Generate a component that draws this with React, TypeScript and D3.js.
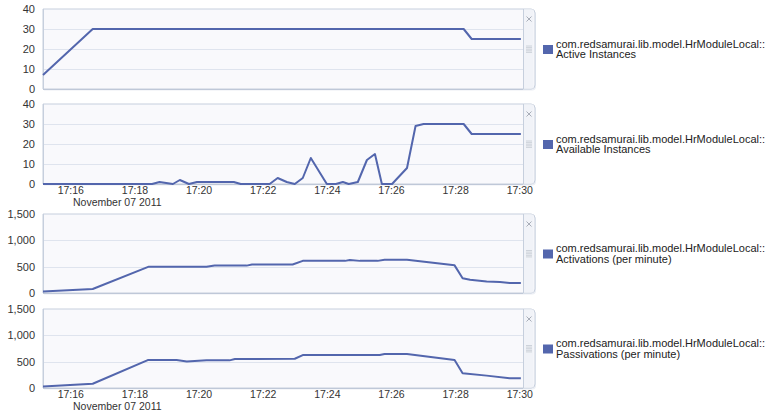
import React from "react";
import * as d3 from "d3";

const xDomainTimes = ["17:15:08", "17:30:06"];
const xTickLabels = ["17:16", "17:18", "17:20", "17:22", "17:24", "17:26", "17:28", "17:30"];
const dateLabel = "November 07 2011";

const smallTicks = [0, 10, 20, 30, 40];
const bigTicks = [0, 500, 1000, 1500];

const activeTimes = ["17:15:08", "17:16:41", "17:28:15", "17:28:30", "17:30:02"];
const activeValues = [7, 30, 30, 25, 25];

const availableTimes = [
  "17:15:08", "17:18:32", "17:18:46", "17:19:11", "17:19:24", "17:19:41", "17:19:56",
  "17:21:05", "17:21:18", "17:22:12", "17:22:27", "17:22:44", "17:22:59", "17:23:14",
  "17:23:29", "17:23:59", "17:24:16", "17:24:29", "17:24:40", "17:24:57", "17:25:14",
  "17:25:29", "17:25:42", "17:26:01", "17:26:29", "17:26:45", "17:27:00", "17:28:15",
  "17:28:30", "17:30:02",
];
const availableValues = [
  0, 0, 1, 0, 2, 0, 1,
  1, 0, 0, 3, 1, 0, 3,
  13, 0, 0, 1, 0, 1, 12,
  15, 0, 0, 8, 29, 30, 30,
  25, 25,
];

const activationTimes = [
  "17:15:08", "17:16:41", "17:18:26", "17:20:14", "17:20:29", "17:21:29", "17:21:39",
  "17:22:55", "17:23:14", "17:24:33", "17:24:42", "17:25:01", "17:25:34", "17:25:47",
  "17:26:29", "17:27:58", "17:28:13", "17:28:27", "17:28:58", "17:29:23", "17:29:41",
  "17:30:02",
];
const activationValues = [
  30, 75, 500, 500, 520, 520, 540,
  540, 610, 610, 625, 610, 610, 630,
  630, 525, 280, 250, 220, 210, 190,
  190,
];

const passivationTimes = [
  "17:15:08", "17:16:41", "17:18:24", "17:19:18", "17:19:37", "17:20:14", "17:20:57",
  "17:21:07", "17:22:59", "17:23:14", "17:25:38", "17:25:47", "17:26:29", "17:27:58",
  "17:28:13", "17:28:58", "17:29:41", "17:30:02",
];
const passivationValues = [
  30, 80, 530, 530, 505, 525, 525,
  550, 555, 625, 625, 645, 645, 530,
  280, 235, 185, 185,
];

const legendPrefix = "com.redsamurai.lib.model.HrModuleLocal::";
const seriesNames = ["Active Instances", "Available Instances", "Activations (per minute)", "Passivations (per minute)"];

const parse = d3.timeParse("%H:%M:%S");
const parseHM = d3.timeParse("%H:%M");

const LINE = "#5366ad";
const FONT = "'Liberation Sans', Arial, Helvetica, sans-serif";

const X0 = 43;
const X1 = 523;
const X2 = 535;

const x = d3
  .scaleTime()
  .domain(xDomainTimes.map((t) => parse(t) as Date))
  .range([X0, X1]);

type PanelProps = {
  top: number;
  bottom: number;
  times: string[];
  values: number[];
  ticks: number[];
  name: string;
  showX: boolean;
};

function Panel({ top, bottom, times, values, ticks, name, showX }: PanelProps) {
  const y = d3
    .scaleLinear()
    .domain([0, ticks[ticks.length - 1]])
    .range([bottom, top]);
  const pts: [Date, number][] = times.map((t, i) => [parse(t) as Date, values[i]]);
  const line = d3
    .line<[Date, number]>()
    .x((d) => x(d[0]))
    .y((d) => y(d[1]));
  const fmt = d3.format(",");
  const r = 4;
  const framePath = `M${X0},${top} H${X2 - r} A${r},${r} 0 0 1 ${X2},${top + r} V${bottom - r} A${r},${r} 0 0 1 ${X2 - r},${bottom} H${X0} Z`;
  const mid = (top + bottom) / 2;
  return (
    <g>
      <path d={framePath} transform="translate(1,1.5)" fill="#e3e7ef" opacity={0.7} />
      <path d={framePath} fill="#f9f9fc" stroke="#c6cfdd" strokeWidth={1} />
      <rect x={X1} y={top + 0.5} width={X2 - X1 - 0.5 - 1} height={bottom - top - 1} fill="#f1f3f8" />
      <line x1={X1 + 0.5} x2={X1 + 0.5} y1={top} y2={bottom} stroke="#c6cfdd" />
      {ticks.map((t) => (
        <g key={t}>
          {t > 0 && t < ticks[ticks.length - 1] && (
            <line x1={X0} x2={X1} y1={Math.round(y(t)) + 0.5} y2={Math.round(y(t)) + 0.5} stroke="#dfe4ee" />
          )}
          <text x={35} y={y(t)} dy="0.35em" textAnchor="end" fontSize={11} fill="#333" fontFamily={FONT}>
            {fmt(t)}
          </text>
        </g>
      ))}
      <line x1={X0} x2={X1} y1={bottom + 0.5} y2={bottom + 0.5} stroke="#bfc8d8" />
      <line x1={X0 + 0.5} x2={X0 + 0.5} y1={top} y2={bottom} stroke="#c6cfdd" />
      <path d={line(pts) || ""} fill="none" stroke={LINE} strokeWidth={2} strokeLinejoin="round" />
      {/* close icon */}
      <g stroke="#a8adb8" strokeWidth={1}>
        <line x1={526.5} x2={531.5} y1={top + 7.5} y2={top + 12.5} />
        <line x1={526.5} x2={531.5} y1={top + 12.5} y2={top + 7.5} />
      </g>
      {/* grip */}
      <g stroke="#c4c9d2" strokeWidth={0.8}>
        {[0, 1, 2, 3, 4].map((i) => (
          <line key={i} x1={526} x2={532} y1={mid - 3 + i * 1.6} y2={mid - 3 + i * 1.6} />
        ))}
      </g>
      {/* legend */}
      <rect x={543} y={mid - 4} width={10} height={9} fill={LINE} />
      <text x={556} y={mid - 5} dy="0.35em" fontSize={11} fill="#222" fontFamily={FONT}>
        {legendPrefix}
      </text>
      <text x={556} y={mid + 5.5} dy="0.35em" fontSize={11} fill="#222" fontFamily={FONT}>
        {name}
      </text>
      {showX && (
        <g>
          {xTickLabels.map((l) => (
            <text
              key={l}
              x={x(parseHM(l) as Date)}
              y={bottom + 6.5}
              dy="0.35em"
              textAnchor="middle"
              fontSize={10.5}
              fill="#333"
              fontFamily={FONT}
            >
              {l}
            </text>
          ))}
          <text x={73} y={bottom + 18} dy="0.35em" fontSize={10.5} fill="#333" fontFamily={FONT}>
            {dateLabel}
          </text>
        </g>
      )}
    </g>
  );
}

export default function App() {
  return (
    <svg
      width={780}
      height={416}
      style={{ position: "absolute", left: 0, top: 0, background: "#fff" }}
    >
      <Panel top={9} bottom={89} times={activeTimes} values={activeValues} ticks={smallTicks} name={seriesNames[0]} showX={false} />
      <Panel top={104} bottom={184} times={availableTimes} values={availableValues} ticks={smallTicks} name={seriesNames[1]} showX={true} />
      <Panel top={214} bottom={293} times={activationTimes} values={activationValues} ticks={bigTicks} name={seriesNames[2]} showX={false} />
      <Panel top={309} bottom={388} times={passivationTimes} values={passivationValues} ticks={bigTicks} name={seriesNames[3]} showX={true} />
    </svg>
  );
}
